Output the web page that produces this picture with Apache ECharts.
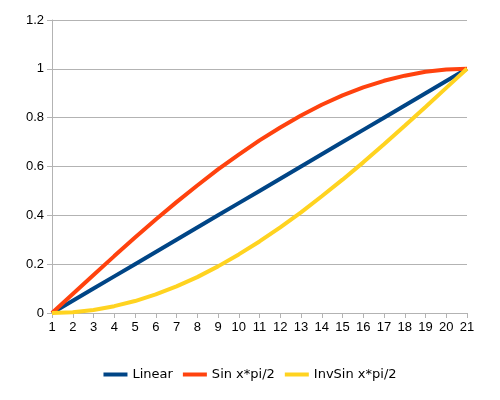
<!DOCTYPE html>
<html><head><meta charset="utf-8">
<script src="https://cdn.jsdelivr.net/npm/echarts@6/dist/echarts.min.js"></script>
<style>html,body{margin:0;background:#fff}#c{width:500px;height:400px}</style>
</head><body><div id="c"></div>
<script>
const categories = ['1','2','3','4','5','6','7','8','9','10','11','12','13','14','15','16','17','18','19','20','21'];
const linear = [0,0.05,0.1,0.15,0.2,0.25,0.3,0.35,0.4,0.45,0.5,0.55,0.6,0.65,0.7,0.75,0.8,0.85,0.9,0.95,1];
const sinVals = [0,0.078,0.156,0.233,0.309,0.383,0.454,0.522,0.588,0.649,0.707,0.760,0.809,0.853,0.891,0.924,0.951,0.972,0.988,0.997,1];
const invSinVals = [0,0.003,0.012,0.028,0.049,0.076,0.109,0.147,0.191,0.240,0.293,0.351,0.412,0.478,0.546,0.617,0.691,0.767,0.844,0.922,1];
const chart = echarts.init(document.getElementById('c'));
const font = 'DejaVu Sans';
function s(name, data, color){return {name, type:'line', data, symbol:'none', lineStyle:{width:4,color}, itemStyle:{color}};}
chart.setOption({
  animation:false,
  textStyle:{fontFamily:font},
  grid:{left:52,right:33,top:20,bottom:87},
  legend:{bottom:14,left:'center',itemWidth:24,itemHeight:4,icon:'rect',itemGap:10,textStyle:{fontSize:13,color:'#000',fontFamily:font}},
  xAxis:{type:'category',data:categories,boundaryGap:false,
    axisLine:{lineStyle:{color:'#b3b3b3'}},axisTick:{show:true,alignWithLabel:true,lineStyle:{color:'#b3b3b3'}},
    axisLabel:{color:'#000',fontSize:13,interval:0,margin:8,fontFamily:'Liberation Sans'},
    splitLine:{show:false}},
  yAxis:{type:'value',min:0,max:1.2,interval:0.2,
    axisLine:{show:true,lineStyle:{color:'#b3b3b3'}},axisTick:{show:true,lineStyle:{color:'#b3b3b3'}},
    axisLabel:{color:'#000',fontSize:13,fontFamily:'Liberation Sans',formatter:v=>String(+v.toFixed(1))},
    splitLine:{lineStyle:{color:'#b3b3b3'}}},
  series:[s('Linear',linear,'#004586'),s('Sin x*pi/2',sinVals,'#ff420e'),s('InvSin x*pi/2',invSinVals,'#ffd320')]
});
</script></body></html>
